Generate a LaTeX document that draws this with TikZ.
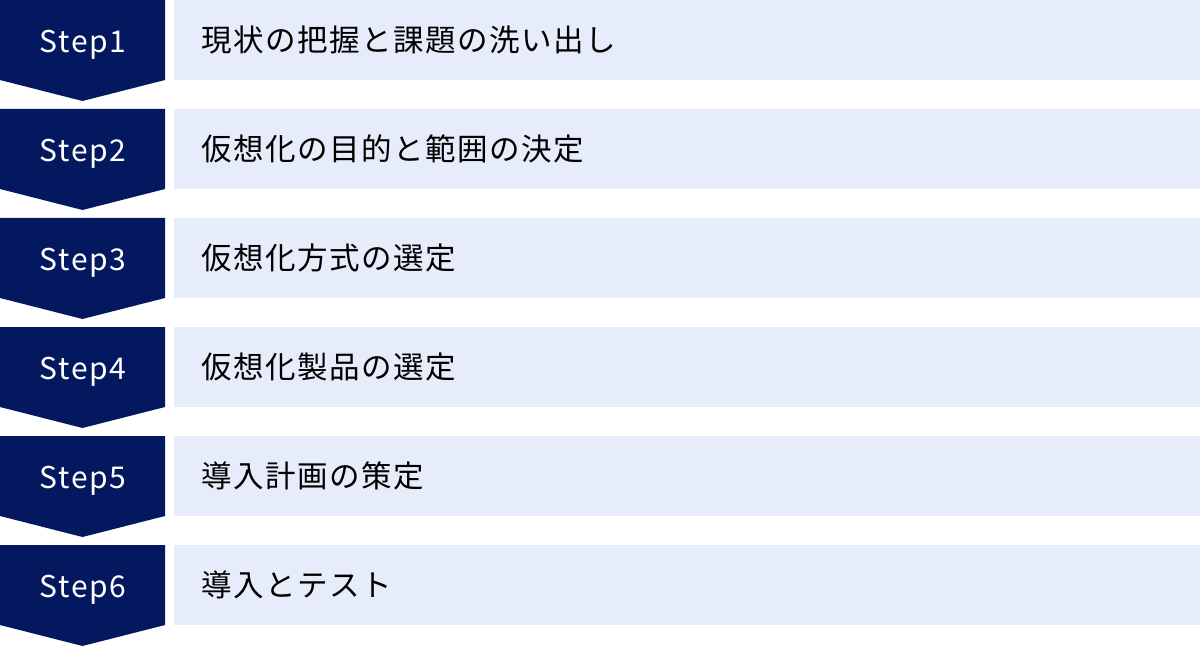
\documentclass[tikz,border=0pt]{standalone}
\usepackage{fontspec}
\setmainfont{Noto Sans CJK JP}
\definecolor{stepnavy}{RGB}{4,24,96}
\definecolor{taskblue}{RGB}{230,236,250}
\tikzset{
  steplabel/.style={anchor=base,text=white,inner sep=0pt,font=\fontsize{30}{36}\selectfont\addfontfeature{LetterSpace=6}},
  tasklabel/.style={anchor=west,inner sep=0pt,text=black,font=\fontsize{30.5}{36}\selectfont\addfontfeature{LetterSpace=5}}
}
\begin{document}
\begin{tikzpicture}[x=1pt,y=-1pt]
    \def\pitch{109} \def\h{80} \def\tip{101} % row
    \def\w{165} \def\bx{174} \def\xmax{1200}
    \useasboundingbox (0,0) rectangle (\xmax,647);
    \foreach \i/\txt in {1/現状の把握と課題の洗い出し,2/仮想化の目的と範囲の決定,3/仮想化方式の選定,4/仮想化製品の選定,5/導入計画の策定,6/導入とテスト}{
        \pgfmathsetmacro\y{(\i-1)*\pitch}
        \fill[stepnavy] (0,\y)--(\w,\y)--(\w,\y+\h)--(\w/2,\y+\tip)--(0,\y+\h)--cycle;
        \fill[taskblue] (\bx,\y) rectangle (\xmax,\y+\h);
        \node[steplabel] (step\i) at (83,\y+52.5) {Step\i};
        \node[tasklabel] (task\i) at (\bx+27,\y+40) {\txt};
    }
\end{tikzpicture}
\end{document}
